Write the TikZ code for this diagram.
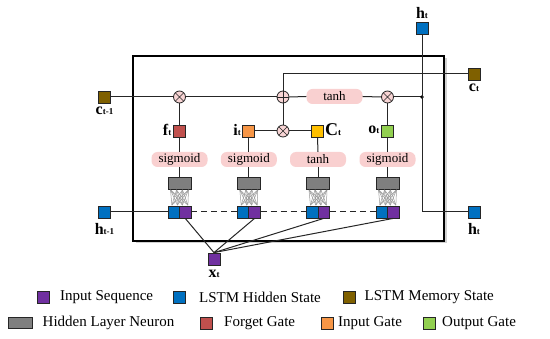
\documentclass[tikz,border=0pt]{standalone}
\usepackage{fontspec}
\setmainfont{Liberation Serif}
\usetikzlibrary{calc}
\definecolor{cpur}{HTML}{7030A0}
\definecolor{cblu}{HTML}{0070C0}
\definecolor{cbrn}{HTML}{7F6000}
\definecolor{cgry}{HTML}{7F7F7F}
\definecolor{cred}{HTML}{C0504D}
\definecolor{cora}{HTML}{F79646}
\definecolor{cgrn}{HTML}{92D050}
\definecolor{cyel}{HTML}{FFC000}
\definecolor{cpink}{HTML}{F9D0D0}
\definecolor{ccirc}{HTML}{F8D4D4}
\newcommand{\lab}[2]{{\fontsize{16}{16}\selectfont\bfseries #1}{\fontsize{9}{9}\selectfont\bfseries #2}}
\begin{document}
\begin{tikzpicture}[x=1pt,y=-1pt,
  ln/.style={line width=1pt, draw=black!85},
  sq/.style={draw=black!85, line width=0.8pt, minimum size=12pt, inner sep=0pt},
  half/.style={draw=black!85, line width=0.8pt, minimum width=11.5pt, minimum height=12pt, inner sep=0pt},
  pill/.style={fill=cpink, rounded corners=6pt, minimum width=56pt, minimum height=15pt, inner sep=0pt, font=\fontsize{13}{13}\selectfont},
  neur/.style={draw=black!85, line width=0.8pt, fill=cgry, minimum width=23pt, minimum height=12pt, inner sep=0pt},
  opm/.style={circle, draw=black!85, line width=0.8pt, fill=ccirc, minimum size=12pt, inner sep=0pt,
    path picture={\draw[line width=0.7pt] (path picture bounding box.north west) -- (path picture bounding box.south east)
      (path picture bounding box.north east) -- (path picture bounding box.south west);}},
  opp/.style={circle, draw=black!85, line width=0.8pt, fill=ccirc, minimum size=12pt, inner sep=0pt,
    path picture={\draw[line width=0.7pt] (path picture bounding box.north) -- (path picture bounding box.south)
      (path picture bounding box.east) -- (path picture bounding box.west);}},
  mesh/.style={draw=black!40, line width=0.5pt},
  leg/.style={anchor=west, inner sep=0pt, font=\fontsize{15}{15}\selectfont}
]
\useasboundingbox (0,0) rectangle (550,339);
% main box with shadow
\fill[black!18] (135.5,58.5) rectangle (446.5,243.5);
\draw[line width=1.3pt, fill=white] (133,56) rectangle (444,241);

% outer state squares
\node[sq, fill=cbrn] (cprev) at (104.5,97) {};
\node[sq, fill=cblu] (hprev) at (104.5,212) {};
\node[sq, fill=cbrn] (cnext) at (474,74) {};
\node[sq, fill=cblu] (htop) at (422,28) {};
\node[sq, fill=cblu] (hnext) at (474,212) {};
\node[sq, fill=cpur] (xt) at (214,259) {};

% operators
\node[opm] (m1) at (179.5,97) {};
\node[opp] (pl) at (283,97) {};
\node[opm] (m2) at (283,131) {};
\node[opm] (m3) at (387.5,97) {};
\node[pill] (tanhc) at (334.5,96.5) {tanh};
\coordinate (dot) at (422,97);

% gates
\node[sq, fill=cred] (ft) at (179.5,131) {};
\node[sq, fill=cora] (it) at (248.8,131) {};
\node[sq, fill=cyel] (Ct) at (317.5,131) {};
\node[sq, fill=cgrn] (ot) at (387.5,131) {};

% pills
\node[pill] (p1) at (179.5,159.5) {sigmoid};
\node[pill] (p2) at (248.8,159.5) {sigmoid};
\node[pill] (p3) at (318,159.5) {tanh};
\node[pill] (p4) at (387.5,159.5) {sigmoid};

% neurons and input pairs
\foreach \i/\cx in {1/179.5,2/248.8,3/318,4/387.5}{
  \node[neur] (n\i) at (\cx,183) {};
  \node[half, fill=cblu] (b\i) at (\cx-5.75,212) {};
  \node[half, fill=cpur] (u\i) at (\cx+5.75,212) {};
  \foreach \a in {-9,-3,3,9}{
    \foreach \b in {-8,-2.5,2.5,8}{
      \draw[mesh] ($(n\i.south)+(\a,0.5)$) -- ($(b\i.north east)+(\b,-0.5)$);
    }
  }
  \draw[ln] (p\i.south) -- (n\i.north);
  \draw[ln] (xt.north) -- (u\i.south);
}

% labels
\node at (104.5,111) {\lab{c}{t-1}};
\node at (104.5,229) {\lab{h}{t-1}};
\node at (214,273.5) {\lab{x}{t}};
\node at (422,13) {\lab{h}{t}};
\node at (474,87.5) {\lab{c}{t}};
\node at (474,229) {\lab{h}{t}};
\node[anchor=east, inner sep=0pt] at (171.5,130) {\lab{f}{t}};
\node[anchor=east, inner sep=0pt] at (241,130) {\lab{i}{t}};
\node[anchor=west, inner sep=0pt] at (325,130) {{\fontsize{18}{18}\selectfont\bfseries C}{\fontsize{9}{9}\selectfont\bfseries t}};
\node[anchor=east, inner sep=0pt] at (379.5,130) {\lab{o}{t}};

% connectors
\draw[ln] (cprev.east) -- (m1.west);
\draw[ln] (m1.east) -- (pl.west);
\draw[ln] (pl.east) -- (tanhc.west);
\draw[ln] (tanhc.east) -- (m3.west);
\draw[ln] (m3.east) -- (dot);
\fill (dot) circle (1.8pt);
\draw[ln] (ft.north) -- (m1.south);
\draw[ln] (it.east) -- (m2.west);
\draw[ln] (m2.east) -- (Ct.west);
\draw[ln] (m2.north) -- (pl.south);
\draw[ln] (pl.north) |- (cnext.west);
\draw[ln] (ot.north) -- (m3.south);
\draw[ln] (htop.south) |- (hnext.west);
\draw[ln] (ft.south) -- (p1.north);
\draw[ln] (it.south) -- (p2.north);
\draw[ln] (Ct.south) -- (p3.north);
\draw[ln] (ot.south) -- (p4.north);
\draw[ln] (hprev.east) -- (b1.west);
\draw[ln, dash pattern=on 6pt off 4pt] (u1.east) -- (b2.west);
\draw[ln, dash pattern=on 6pt off 4pt] (u2.east) -- (b3.west);
\draw[ln, dash pattern=on 6pt off 4pt] (u3.east) -- (b4.west);

% legend
\node[sq, fill=cpur] (l1) at (43,297) {};
\node[leg] (t1) at (60,297) {Input Sequence};
\node[sq, fill=cblu] (l2) at (179.5,297) {};
\node[leg] (t2) at (199,297) {LSTM Hidden State};
\node[sq, fill=cbrn] (l3) at (349,297) {};
\node[leg] (t3) at (364.5,297) {LSTM Memory State};
\node[sq, fill=cgry, minimum width=24pt, minimum height=11pt] (l4) at (20,323) {};
\node[leg] (t4) at (42.5,323) {Hidden Layer Neuron};
\node[sq, fill=cred] (l5) at (206,323) {};
\node[leg] (t5) at (224,323) {Forget Gate};
\node[sq, fill=cora] (l6) at (327.5,323) {};
\node[leg] (t6) at (338,323) {Input Gate};
\node[sq, fill=cgrn] (l7) at (429,323) {};
\node[leg] (t7) at (442,323) {Output Gate};
\end{tikzpicture}
\end{document}
